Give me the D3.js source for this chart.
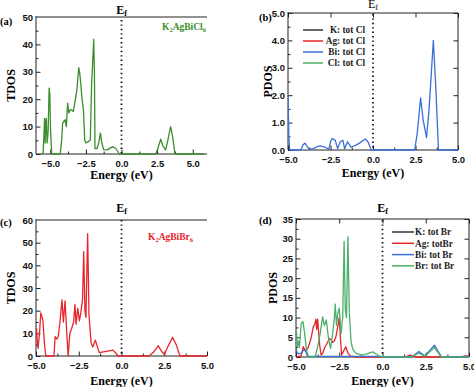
<!DOCTYPE html>
<html lang="en">
<head>
<meta charset="UTF-8">
<script src="https://cdnjs.cloudflare.com/ajax/libs/d3/7.8.5/d3.min.js"></script>
<style>
    body { margin: 0; background: #fff; }
    svg { font-family: "Liberation Serif", "Times New Roman", serif; font-weight: bold; }
    .tick text { font-size: 9.5px; fill: #111; }
    .tick line { stroke: #222; }
    path.domain { stroke: #222; }
</style>
</head>
<body>
<svg width="474" height="387"></svg>
<script>
// tick labels
const energyTicks = [-5, -2.5, 0, 2.5, 5];
const tdosClTicks = [0, 10, 20, 30, 40, 50];
const pdosClTicks = [0, 1, 2, 3, 4, 5];
const tdosBrTicks = [0, 10, 20, 30, 40, 50, 60];
const pdosBrTicks = [0, 5, 10, 15, 20, 25, 30, 35];

// (a) total DOS of K2AgBiCl6, [energy, dos]
const tdosCl = [[-5.6,0],[-5.5,0.5],[-5.45,6],[-5.4,13],[-5.36,4],[-5.32,11],[-5.28,13],[-5.22,4],[-5.15,8],[-5.08,24],[-5.03,22],[-4.98,9],[-4.9,0],
    [-4.3,0],[-4.2,5],[-4.13,11.3],[-3.96,12.5],[-3.87,10],[-3.78,18.6],[-3.7,15],[-3.6,16],[-3.54,16.2],[-3.38,15.5],[-3.3,18],[-3.24,19.9],[-3.17,22],
    [-3.12,24],[-3.0,31.5],[-2.92,29],[-2.84,24.7],[-2.77,20],[-2.72,18],[-2.67,16],[-2.58,5],[-2.49,4],[-2.35,4.5],[-2.19,5],[-2.1,25],[-1.95,41.9],
    [-1.9,30],[-1.86,2],[-1.72,2],[-1.6,4],[-1.48,7.6],[-1.38,4],[-1.25,1.6],[-1.0,1.5],[-0.62,2.7],[-0.4,2],[-0.15,0],
    [2.4,0],[2.55,2],[2.75,5.4],[2.9,3],[3.1,1.5],[3.25,5],[3.45,10],[3.6,6],[3.75,0],[5.8,0]];

// (b) Bi partial DOS of K2AgBiCl6
const pdosClBi = [[-5,2],[-4.95,0.5],[-4.9,0],[-4.25,0],[-4.1,0.2],[-4.0,0.25],[-3.85,0.1],[-3.75,0.03],[-3.5,0.05],[-3.3,0.12],[-3.1,0.15],
    [-2.8,0.1],[-2.6,0.02],[-2.5,0.3],[-2.4,0.42],[-2.22,0.35],[-2.08,0.05],[-1.93,0.3],[-1.77,0.35],[-1.67,0.05],[-1.5,0.3],[-1.28,0.1],
    [-1.0,0.18],[-0.8,0.25],[-0.45,0.4],[-0.3,0.3],[-0.1,0],[2.45,0],[2.6,0.6],[2.8,1.9],[2.95,1.1],[3.15,0.45],[3.3,1.5],[3.55,4.0],
    [3.7,2.2],[3.85,0],[5,0]];

// (c) total DOS of K2AgBiBr6
const tdosBr = [[-5,8],[-4.97,12.3],[-4.93,7],[-4.88,3.5],[-4.8,9.5],[-4.72,19],[-4.6,16],[-4.5,5],[-4.43,0],[-3.95,0],[-3.88,8.5],
    [-3.78,7.5],[-3.7,8.5],[-3.6,15],[-3.48,24.7],[-3.4,15],[-3.3,24.3],[-3.2,10],[-3.12,0],[-3.02,10],[-2.92,12],[-2.8,15],[-2.72,22.8],
    [-2.66,14],[-2.56,21],[-2.46,15.5],[-2.38,19],[-2.28,25],[-2.21,46],[-2.14,20],[-2.08,17],[-1.98,54],[-1.9,18],[-1.78,6],[-1.68,4],
    [-1.53,7],[-1.3,1.5],[-0.9,2],[-0.5,2.6],[-0.3,1],[-0.2,0],[1.6,0],[1.85,1.5],[2.15,4.5],[2.35,2],[2.5,0.7],[2.7,4],[2.99,8.2],
    [3.2,5],[3.42,0],[5,0]];

// (d) partial DOS of K2AgBiBr6
const pdosBrAg = [[-5,0],[-4.7,0.3],[-4.58,2.6],[-4.45,1.5],[-4.3,2.4],[-4.13,4.7],[-4.0,7.7],[-3.92,8.2],[-3.85,9.6],[-3.8,7],[-3.75,9.6],
    [-3.63,3],[-3.55,0.5],[-3.45,1],[-3.34,2.4],[-3.2,3.5],[-3.07,4.7],[-2.98,4.4],[-2.9,3.7],[-2.79,4],[-2.7,5],[-2.55,8.6],[-2.5,10],
    [-2.42,4],[-2.36,0.5],[-2.25,1.5],[-2.12,2.6],[-2.0,1],[-1.85,0.2],[-1.5,0],[1.3,0],[1.6,0.5],[1.9,0],[4.5,0],[4.8,0.3],[5,0.2]];
const pdosBrBi = [[-5,2.2],[-4.95,1.3],[-4.85,0.8],[-4.7,1.0],[-4.55,1.8],[-4.45,1.5],[-4.35,0.3],[-4.2,0.15],[-0.1,0.15],[0,0],[1.7,0],
    [2.1,1.4],[2.45,0.3],[3.0,3.0],[3.42,0],[5,0]];
const pdosBrBr = [[-5,5],[-4.97,6.5],[-4.92,2.5],[-4.85,4],[-4.8,2.5],[-4.7,8.5],[-4.6,9],[-4.5,6],[-4.4,2],[-4.28,0],[-3.9,0],[-3.75,2.6],
    [-3.6,6],[-3.46,10.2],[-3.36,8],[-3.25,9.4],[-3.11,4.3],[-3.0,2.2],[-2.88,6],[-2.78,10],[-2.73,13.4],[-2.66,8],[-2.59,11],[-2.5,12.4],
    [-2.4,6],[-2.3,10],[-2.22,29.3],[-2.15,12],[-2.08,10],[-2.0,30.5],[-1.92,11.7],[-1.82,3.9],[-1.72,2],[-1.55,1],[-1.2,0.5],[-0.9,0.8],
    [-0.57,1.3],[-0.28,0.5],[-0.1,0],[1.7,0],[2.1,1.0],[2.45,0.2],[3.0,2.4],[3.4,0],[5,0]];

const legendCl = ['K: tot Cl', 'Ag: tot Cl', 'Bi: tot Cl', 'Cl: tot Cl'];
const legendBr = ['K: tot Br', 'Ag: totBr', 'Bi: tot Br', 'Br: tot Br'];
const legendColors = ['#333333', '#e8252a', '#3a6fd8', '#4caf6a'];

const svg = d3.select('svg');
let clipId = 0;

function panel(p) {
    const g = svg.append('g');
    const x = d3.scaleLinear().domain(p.xDomain).range(p.xRange);
    const y = d3.scaleLinear().domain([0, p.yTicks[p.yTicks.length - 1]]).range(p.yRange);
    const [x0, x1] = p.xRange, [yb, yt] = p.yRange;
    const yStep = p.yTicks[1] - p.yTicks[0];

    // minor ticks
    const xMinor = d3.range(-5, 5.01, 1.25).filter(v => energyTicks.indexOf(v) < 0);
    const yMinor = p.yTicks.slice(0, -1).map(v => v + yStep / 2);
    g.append('g').attr('transform', `translate(0,${yb})`)
        .call(d3.axisBottom(x).tickValues(xMinor).tickSize(-2.5).tickFormat(''))
        .select('.domain').remove();
    g.append('g').attr('transform', `translate(${x0},0)`)
        .call(d3.axisLeft(y).tickValues(yMinor).tickSize(-2.5).tickFormat(''))
        .select('.domain').remove();

    const xAxis = g.append('g').attr('transform', `translate(0,${yb})`)
        .call(d3.axisBottom(x).tickValues(energyTicks).tickSizeInner(-4.5).tickSizeOuter(0)
            .tickPadding(6).tickFormat(d3.format('.1f')));
    const yAxis = g.append('g').attr('transform', `translate(${x0},0)`)
        .call(d3.axisLeft(y).tickValues(p.yTicks).tickSizeInner(-4.5).tickSizeOuter(0).tickPadding(3));
    xAxis.select('.domain').attr('d', `M${x0},0H${x1}`);
    yAxis.select('.domain').attr('d', `M0,${yb}V${yt - 1}`);
    if (p.hideTopTick) yAxis.selectAll('.tick').filter(d => d === p.yTicks[p.yTicks.length - 1]).select('line').remove();

    // frame
    g.append('line').attr('x1', x0).attr('x2', x1).attr('y1', yt).attr('y2', yt)
        .attr('stroke', '#222').attr('stroke-width', 1);
    if (p.box) {
        g.append('line').attr('x1', x1).attr('x2', x1).attr('y1', yt).attr('y2', yb)
            .attr('stroke', '#222').attr('stroke-width', 1);
        g.append('g').attr('transform', `translate(0,${yt})`)
            .call(d3.axisTop(x).tickValues(energyTicks).tickSize(-4.5).tickFormat(''))
            .select('.domain').remove();
        g.append('g').attr('transform', `translate(${x1},0)`)
            .call(d3.axisRight(y).tickValues(p.yTicks).tickSize(-4.5).tickFormat(''))
            .select('.domain').remove();
    }

    // Fermi level
    g.append('line').attr('x1', x(0)).attr('x2', x(0)).attr('y1', p.efLine).attr('y2', yb)
        .attr('stroke', '#111').attr('stroke-width', 1.8).attr('stroke-dasharray', '1.4,3');

    // curves
    const id = 'clip' + (clipId++);
    g.append('clipPath').attr('id', id).append('rect')
        .attr('x', x0).attr('y', yt).attr('width', x1 - x0).attr('height', yb - yt + 1);
    const line = d3.line().x(d => x(d[0])).y(d => y(d[1]));
    p.series.forEach(s => {
        g.append('path').attr('d', line(s.data)).attr('clip-path', `url(#${id})`)
            .attr('fill', 'none').attr('stroke', s.color).attr('stroke-width', 1.3)
            .attr('stroke-linejoin', 'round');
    });

    // titles
    g.append('text').attr('x', (x0 + x1) / 2).attr('y', p.xTitleY).attr('text-anchor', 'middle')
        .attr('font-size', 12).text('Energy (eV)');
    g.append('text').attr('transform', `translate(${p.yTitleX},${(yb + yt) / 2}) rotate(-90)`)
        .attr('text-anchor', 'middle').attr('font-size', 12).text(p.yTitle);
    g.append('text').attr('x', p.tag[0]).attr('y', p.tag[1]).attr('font-size', 10.5).text(p.tag[2]);

    const ef = g.append('text').attr('x', x(0)).attr('y', p.efY).attr('text-anchor', 'middle')
        .attr('font-size', 12).attr('font-weight', p.efBold ? 'bold' : 'normal');
    ef.append('tspan').text('E');
    ef.append('tspan').attr('font-size', 8).attr('dy', 2).text('f');
    return { g, x, y };
}

function formula(g, xp, yp, color, halide) {
    const t = g.append('text').attr('x', xp).attr('y', yp).attr('font-size', 9.5).attr('fill', color);
    t.append('tspan').text('K');
    t.append('tspan').attr('font-size', 6.5).attr('dy', 2).text('2');
    t.append('tspan').attr('dy', -2).text('AgBi' + halide);
    t.append('tspan').attr('font-size', 6.5).attr('dy', 2).text('6');
}

function legend(g, labels, lx0, lx1, tx, anchor, y0, dy) {
    labels.forEach((lab, i) => {
        const yy = y0 + i * dy;
        g.append('line').attr('x1', lx0).attr('x2', lx1).attr('y1', yy).attr('y2', yy)
            .attr('stroke', legendColors[i]).attr('stroke-width', 1.5);
        g.append('text').attr('x', tx).attr('y', yy + 3.2).attr('text-anchor', anchor)
            .attr('font-size', 9.3).attr('fill', '#222').text(lab);
    });
}

const pa = panel({
    xDomain: [-6, 6], xRange: [36, 207], yRange: [154, 17], yTicks: tdosClTicks,
    series: [{ data: tdosCl, color: '#3b8e2c' }], box: false, hideTopTick: true,
    xTitleY: 179, yTitleX: 15, yTitle: 'TDOS', tag: [0, 25, '(a)'], efY: 14, efBold: true, efLine: 20
});
formula(pa.g, 162, 30, '#3b8e2c', 'Cl');

const pb = panel({
    xDomain: [-5, 5], xRange: [288, 458], yRange: [150, 13], yTicks: pdosClTicks,
    series: [{ data: pdosClBi, color: '#3a6fd8' }], box: true,
    xTitleY: 177, yTitleX: 272, yTitle: 'PDOS', tag: [259, 21, '(b)'], efY: 8, efBold: false, efLine: 14
});
legend(pb.g, legendCl, 303, 323, 365, 'end', 30, 11);

const pc = panel({
    xDomain: [-5, 5], xRange: [36, 207], yRange: [356, 220], yTicks: tdosBrTicks,
    series: [{ data: tdosBr, color: '#e8252a' }], box: false, hideTopTick: true,
    xTitleY: 385, yTitleX: 15, yTitle: 'TDOS', tag: [0, 226, '(c)'], efY: 212, efBold: true, efLine: 220
});
formula(pc.g, 148, 240, '#e8252a', 'Br');

const pd = panel({
    xDomain: [-5, 5], xRange: [296, 469], yRange: [357, 219], yTicks: pdosBrTicks,
    series: [
        { data: pdosBrAg, color: '#e8252a' },
        { data: pdosBrBi, color: '#3a6fd8' },
        { data: pdosBrBr, color: '#4caf6a' }
    ], box: true,
    xTitleY: 385, yTitleX: 277, yTitle: 'PDOS', tag: [259, 224, '(d)'], efY: 212, efBold: true, efLine: 220
});
legend(pd.g, legendBr, 392, 414, 415, 'start', 232, 11.3);
</script>
</body>
</html>
